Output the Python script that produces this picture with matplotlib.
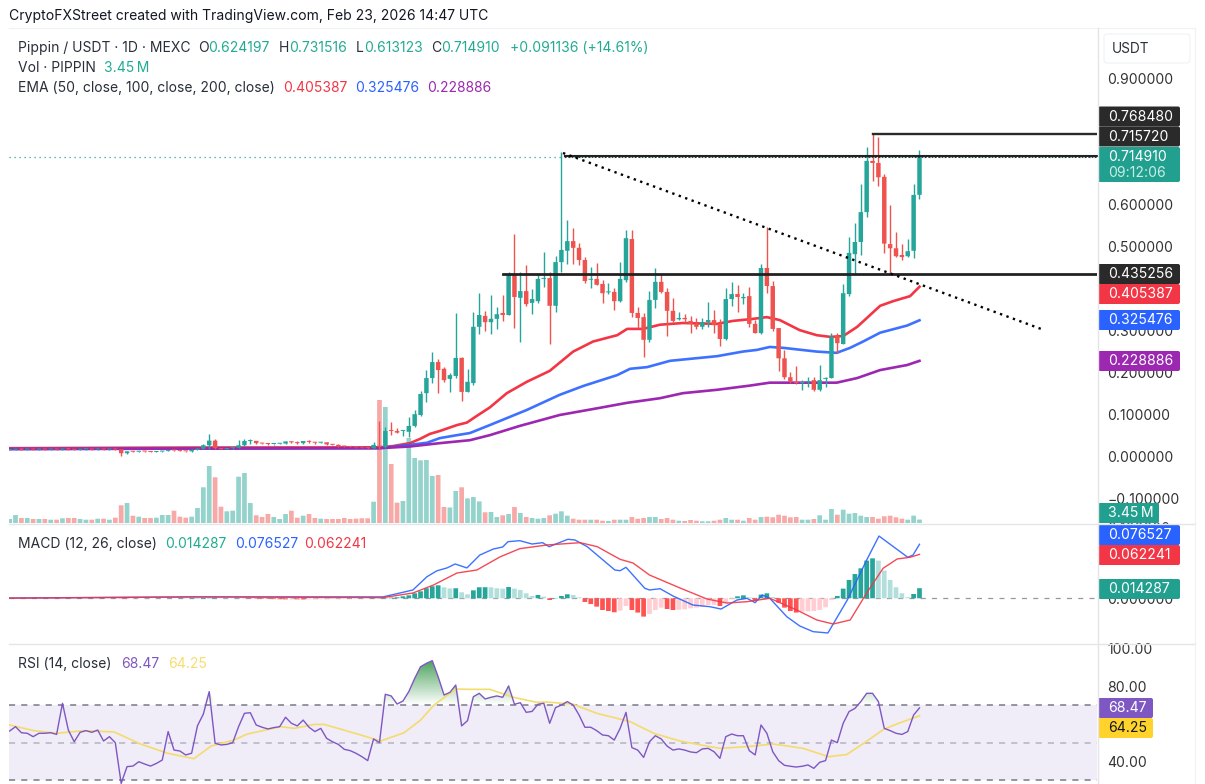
import matplotlib
matplotlib.use("Agg")
import matplotlib.pyplot as plt
from matplotlib.patches import FancyBboxPatch, Polygon
import numpy as np

plt.rcParams['font.family'] = ['Inter', 'DejaVu Sans']

W, H = 1205, 784

# all series below are read newest bar first, reversed further down
opens = [.6242,.491,.478,.481,.497,.507,.667,.70,.705,.583,.512,.483,.388,.269,.288,.188,.186,.16,.183,.178,
         .176,.178,.19,.235,.307,.407,.45,.295,.317,.383,.378,.388,.376,.281,.316,.326,.321,.31,.317,.324,
         .331,.328,.348,.393,.417,.374,.279,.333,.343,.519,.421,.371,.393,.392,.412,.424,.422,.469,.498,.514,
         .491,.464,.36,.426,.424,.371,.367,.395,.379,.436,.338,.343,.329,.321,.336,.31,.176,.155,.236,.193,
         .186,.21,.226,.188,.152,.10,.074,.06,.062,.062,.064,.024,.027,.021,
         .0225,.023,.024,.025,.026,.029,.03,.035,.034,.035,.037,.033,.034,.036,.032,.0315,.031,.032,.033,.0385,
         .038,.028,.022,.021,.019,.021,.039,.028,.02,.017,.0135,.0145,.0155,.0165,.014,.013,.012,.013,.014,.0125,
         .0135,.009,.018,.0185,.018,.019,.018,.019,.0185,.0175,.0185,.0195,.018,.019,.018,.019,.018,.019,.018,.0195,.0175,.0165]
closes = [.7149,.624,.49,.476,.478,.497,.508,.666,.70,.705,.583,.512,.486,.39,.271,.286,.188,.183,.16,.181,
          .178,.176,.179,.19,.235,.305,.407,.45,.295,.317,.381,.381,.388,.376,.281,.314,.326,.321,.31,.317,
          .328,.331,.324,.348,.393,.417,.374,.279,.331,.343,.521,.424,.371,.394,.39,.41,.424,.419,.469,.498,
          .514,.493,.464,.36,.426,.424,.376,.364,.395,.381,.436,.338,.34,.329,.321,.338,.31,.179,.155,.236,
          .195,.183,.207,.226,.188,.15,.102,.074,.063,.058,.062,.062,.024,.029,
          .021,.0225,.023,.024,.025,.026,.029,.03,.035,.034,.036,.038,.033,.035,.037,.032,.0315,.031,.032,.033,
          .0385,.038,.028,.022,.021,.019,.021,.039,.028,.02,.017,.0135,.0145,.0155,.015,.014,.013,.012,.013,.014,
          .0125,.0135,.009,.018,.0185,.018,.019,.018,.019,.0185,.0175,.0185,.0195,.018,.019,.018,.019,.018,.019,.018,.0195,.0175]
highs = [.7315,.65,.519,.507,.536,.60,.674,.762,.7685,.738,.65,.557,.524,.412,.295,.295,.19,.219,.19,.19,
         .183,.217,.203,.255,.307,.419,.548,.46,.326,.405,.39,.41,.417,.402,.329,.35,.369,.33,.33,.335,
         .34,.345,.379,.402,.436,.45,.395,.343,.357,.54,.54,.464,.402,.414,.421,.462,.452,.476,.51,.545,
         .564,.725,.479,.44,.488,.436,.40,.457,.44,.531,.44,.386,.357,.386,.348,.39,.345,.21,.238,.343,
         .20,.214,.233,.25,.207,.157,.112,.095,.065,.07,.083,.071,.086,.035,
         .023,.024,.025,.026,.027,.03,.031,.036,.036,.036,.041,.039,.037,.038,.039,.034,.032,.033,.034,.039,
         .044,.043,.04,.023,.022,.022,.042,.055,.032,.021,.018,.015,.016,.017,.016,.015,.014,.014,.015,.015,
         .014,.015,.0185,.019,.019,.02,.019,.02,.019,.019,.019,.021,.019,.02,.019,.02,.019,.02,.019,.021,.02,.018]
lows = [.6131,.474,.476,.469,.476,.435,.486,.645,.657,.571,.481,.436,.383,.269,.248,.187,.167,.157,.157,.167,
        .16,.175,.176,.186,.204,.30,.39,.293,.295,.31,.365,.345,.36,.279,.264,.295,.31,.305,.305,.295,
        .319,.326,.322,.288,.39,.355,.274,.238,.307,.333,.417,.369,.35,.388,.367,.41,.402,.414,.457,.46,
        .46,.44,.345,.269,.405,.367,.34,.36,.274,.307,.338,.324,.305,.293,.30,.293,.171,.155,.133,.188,
        .155,.179,.152,.176,.131,.098,.071,.048,.05,.056,.052,.021,.02,.02,
        .02,.021,.022,.023,.024,.025,.028,.029,.033,.032,.033,.032,.032,.033,.031,.03,.029,.029,.03,.032,
        .031,.027,.021,.02,.018,.018,.019,.019,.019,.016,.013,.013,.014,.015,.014,.013,.011,.011,.012,.012,
        .012,.008,.003,.017,.017,.017,.017,.017,.017,.017,.017,.017,.017,.017,.017,.017,.017,.017,.017,.017,.017,.016]

# volume in millions
volumes = [3.45,7.3,3.3,4.3,5.7,7.3,6.7,4.3,6,6,7.3,10,9.3,13.3,8.3,14,3.3,7.7,4,3.3,
           3.3,6,5.7,7.3,8.3,5.7,6.3,6,3.3,5,2.3,3.3,3.3,5,3.3,2.3,1.7,1.7,2.3,3,
           2,2.3,3.3,5,4,6,6,5,4.3,6,3.3,3.3,3.3,2,2.3,3.3,3.3,3.3,3.3,4.3,
           7.3,11.7,9.3,7.7,5,4.3,5,6,10,16,9,7.7,6,11,10.7,21.6,26,24.6,35.7,32,
           15.5,16,48,47,63,62.7,65,85,22,20.3,59,116,123,21.3,
           4.7,4.7,4.3,4,5,4,4,4,4.3,5,9,7.3,5.3,12.3,9,4,6,9,6,7.7,
           20,50,46.3,12.3,11.7,16.3,45.7,57,35.7,15,6.3,5.3,6.3,12.3,8,8,5.3,5,5,6.3,
           7.3,20,17.7,5.3,3.3,4.3,4.3,3.3,3.3,4,5,5,4.7,3.3,3.3,4,4,4,5,5,8,4]

# macd histogram in thousandths
macd_hist = [14.3,6.1,1.4,7.1,15.6,25.9,39.2,53.4,56.6,53.4,42.5,34.4,25.9,13.7,3.3,-2.4,-12.7,-16.6,-18,-18.5,
             -18.9,-20.2,-18,-13.2,-6.1,1.8,7.1,5.2,-3.3,1.4,4.2,2.8,-1,-7.1,-10.9,-9.3,-9.5,-11.8,-13.2,-14.2,
             -15.6,-16.3,-16.6,-15.2,-13.2,-16.6,-22.2,-25.9,-20.2,-16.6,-10.9,-17.4,-19.8,-18,-16.6,-11.8,-8.1,-5.2,1.4,4.7,
             5.7,3.3,.4,-2.4,2.4,4.7,3.3,7.1,11.8,13.7,16,13.7,14.2,15.6,15.7,15.6,11.3,5.7,8.5,14.2,
             14,15.6,18.4,17,14.2,9.9,7.1,4.2,2.8,1.4,1,.7,.3,.2,
             -.2,-.3,-.4,-.5,-.6,-.8,-1,-1.2,-1.3,-1.4,-1.5,-1.6,-1.5,-1.4,-1.5,-1.3,-1.1,-.9,-.8,-.6,
             -.5,-.3,.2,.4,.5,.6,.7,.6,.5,.4,.3,.2,.1,.1,-.1,-.2,-.2,-.3,-.3,-.4,
             -.4,-.5,-.4,-.2,-.1,-.1,.1,.1,.1,.1,-.1,-.1,.1,.1,.1,-.1,-.1,.1,.1,.1,.1,.1]

# rsi oldest bar first
rsi = [56.2,58.5,55.3,55,53.2,55,55,55.3,54.4,70.9,56.7,50.5,55.5,56.4,55.5,56.7,50.9,53.2,50,28.4,
       37.3,37.6,39.9,38.7,37.6,39,40.8,55.9,46.1,45.6,43.5,44.4,59,65.2,77.1,49.7,48.8,49.1,50,58.5,
       65.6,65.9,59.4,58.2,57.3,58,58.5,63.5,60.3,58.9,62,58.2,55.9,57.6,52.3,50.5,49.1,46.5,45.8,44.4,
       42.6,40.5,52,50,75.7,74.8,70.5,72.1,77.1,84.1,90.3,92.1,93.5,85,75.3,76.7,80.6,58.9,61.7,74.4,76.2,
       73.2,74.1,74.8,74.1,80.1,70.4,71.2,66.1,66.6,70.4,70.9,60.3,68.6,70,71.8,70,64.7,58.2,58.2,56.4,
       54.1,53.7,51.4,57.6,66.1,47.4,46.1,42.2,50.5,53.7,52,48.2,46.1,46.7,46.1,45.1,44.7,46.7,47,45.2,
       41.7,53.2,54.6,53.7,53.7,45.8,43.5,59.4,55,45.2,40.5,38,37.5,37.1,37.5,38.2,36.4,39.6,40.5,51.4,
       50,60.3,66.5,68.2,71.8,76.2,76.2,71.8,57.6,56.4,55,54.4,55.9,64.7,68.47]
rsi_ma_bar = [0,4.1,8.1,12.7,17.8,22.3,26.9,31.4,34.3,38.2,40.5,46.2,48.5,51.9,53.6,59.8,63.2,67.2,70,72.3,76,78,80.3,
              81.8,85.8,89.8,91.5,96,100,105.7,109.7,114.2,118.8,121,125.6,130.1,135.2,139.5,142.6,145.5,148.9,151.7,155]
rsi_ma = [59.4,56.4,55,56.4,55.7,49.3,44.4,41.5,48.2,51.4,54.6,58.5,57.6,59.7,59.7,54.1,50.9,55.3,62,70,78.5,78.3,78.3,
          78.3,74.1,71.4,71.6,70.4,65.6,61.2,55,50.9,48.2,47,47.9,49.3,47,42.6,43.7,49.7,57.1,60.6,64.25]

# ema lines, read at these bars
ema50_bar = [0,32.4,63,65.3,68.2,69.9,71.6,73.3,76.2,77.9,79.6,81.8,84.7,88.1,92,96,99.4,103.5,105.2,107.9,110.8,114.7,
             120.5,123.2,126.1,129,131.2,134.6,137.5,139.8,142,144.4,148.3,150.5,153.4,155]
ema50 = [.021,.0226,.023,.026,.033,.043,.055,.062,.076,.082,.098,.118,.152,.179,.205,.251,.275,.29,.305,.305,.315,.319,
         .317,.324,.328,.333,.326,.302,.29,.286,.288,.31,.36,.371,.383,.4054]
ema100_bar = [0,63,68.2,71.1,73.3,76.2,78.4,81.8,88.1,93.7,97.7,103.5,105.7,108.6,112.5,120.5,124.9,127.3,129.5,131.7,
              137.5,140.9,143.2,145.4,148.3,152.9,155]
ema100 = [.019,.021,.029,.034,.045,.052,.057,.076,.112,.148,.169,.195,.21,.214,.229,.24,.251,.255,.262,.26,
          .251,.248,.26,.275,.296,.313,.3255]
ema200_bar = [0,63,68.2,73.3,78.4,81.8,86.9,93.7,100.5,105.2,110.8,114.7,120.5,126.1,129.5,134.6,140.9,144.4,148.3,152.9,155]
ema200 = [.019,.021,.025,.033,.04,.052,.074,.10,.117,.129,.14,.152,.16,.17,.177,.177,.177,.188,.207,.219,.2289]

# macd lines
macd_bar = [0,32,63.6,66.5,68.7,71.1,72.8,74.5,75.9,77.9,80.1,82.4,84,84.9,86.9,89,90.8,91.9,95.1,96.3,98.4,103.1,104,105,
            108.2,109,110.8,113,116.4,119.3,121.2,123.9,125.6,127,128.2,129.5,132.4,134.6,136.9,139.4,142.7,146,148.1,153,153.9,155]
macd_line = [.0004,.002,.002,.0075,.0118,.0306,.039,.043,.0486,.043,.0613,.0698,.0727,.0802,.0816,.0769,.0788,.0731,.0836,.0826,.0731,.0401,.0391,.0439,
             .0142,.0118,.0136,.0033,-.0095,-.0119,-.0152,-.0024,0,-.0062,.0047,0,-.0261,-.0392,-.0473,-.0491,-.0024,.0542,.0882,.0581,.0613,.0765]
signal_bar = [0,32,63.6,68.7,72.2,76.2,79.6,83.5,86.9,91.5,97.2,100.1,104,106.2,109,114.2,118.8,122.2,125.6,129.5,134.1,137.5,140.3,143.2,146,148.8,151.2,153.4,155]
signal_line = [.0002,.002,.001,.0075,.0188,.0358,.0401,.0585,.0703,.0755,.0788,.0731,.0552,.05,.033,.0146,-.001,-.0067,-.0048,0,-.0166,-.0307,-.0364,-.0307,.0075,.0425,.0557,.0581,.0622]

price_ticks = [-.1, 0, .1, .2, .3, .4, .5, .6, .7, .8, .9]
macd_ticks = [0, .1]
rsi_ticks = [40, 60, 80, 100]

# reorder to oldest first
o = np.array(opens)[::-1]
c = np.array(closes)[::-1]
hi = np.array(highs)[::-1]
lo = np.array(lows)[::-1]
vol = np.array(volumes)[::-1]
hist = np.array(macd_hist)[::-1] / 1000
x = np.arange(len(o))

GREEN = '#26A69A'
RED = '#EF5350'
GRID = '#E4E5E8'
TEXT = '#2A2E39'


def pane(top, bottom, ylim):
    ax = fig.add_axes([9 / W, 1 - bottom / H, (1097 - 9) / W, (bottom - top) / H])
    ax.set_xlim(-0.11, 185.24)
    ax.set_ylim(*ylim)
    ax.patch.set_alpha(0)
    for s in ax.spines.values():
        s.set_visible(False)
    ax.set_xticks([])
    ax.yaxis.tick_right()
    ax.tick_params(axis='y', length=0, pad=7.5, labelsize=10.1, labelcolor='#333333')
    return ax


fig = plt.figure(figsize=(W / 100, H / 100), dpi=100, facecolor='white')

# main pane, 420 px per 1.0 of price
ax_vol = pane(28, 523, (0, 495))
ax_vol.set_yticks([])
ax = pane(28, 523, ((457 - 523) / 420, (457 - 28) / 420))
ax.set_yticks(price_ticks)
ax.set_yticklabels(['\u2212%.6f' % abs(t) if t < 0 else '%.6f' % t for t in price_ticks])
ax_vol.set_zorder(1)
ax.set_zorder(2)

up = c >= o
ax_vol.bar(x, vol, width=0.8, color=np.where(up, '#94D3CC', '#F7A9A7'), linewidth=0, snap=False)

ax.axhline(.71491, color=GREEN, lw=0.9, ls=(0, (1, 3)), zorder=1)
ax.plot(ema50_bar, ema50, color='#F23645', lw=1.9, zorder=2)
ax.plot(ema100_bar, ema100, color='#2962FF', lw=1.9, zorder=2.1, alpha=0.9)
ax.plot(ema200_bar, ema200, color='#9C27B0', lw=1.9, zorder=2.2)

ax.vlines(x, lo, hi, colors=np.where(up, GREEN, RED), lw=1.0, zorder=3)
body_h = np.maximum(np.abs(c - o), 0.0024)
ax.bar(x, body_h, bottom=np.minimum(o, c), width=0.76, color=np.where(up, GREEN, RED), linewidth=0, zorder=3.1, snap=False)

# drawn levels and the trend line
ax.plot([94.6, 185.24], [.71572, .71572], color='#222222', lw=1.5, zorder=4, clip_on=False)
ax.plot([94.6, 185.24], [.71491, .71491], color='#222222', lw=1.2, ls=(0, (1, 1)), zorder=4)
ax.plot([147.1, 185.24], [.76848, .76848], color='#2A2A2A', lw=1.7, zorder=4)
ax.plot([84.05, 185.24], [.435256, .435256], color='#222222', lw=2.0, zorder=4)
ax.plot([94.27, 176.2], [.7238, .3024], color='black', lw=1.7, ls=(0, (1, 1.9)), zorder=4)

# macd pane, 706 px per 1.0
ax_m = pane(523, 643, (-(643 - 598.3) / 706, (598.3 - 523) / 706))
ax_m.set_yticks(macd_ticks)
ax_m.set_yticklabels(['%.6f' % t for t in macd_ticks])
prev = np.r_[hist[0], hist[:-1]]
hist_colors = np.where(hist >= 0, np.where(hist >= prev, GREEN, '#B2DFDB'), np.where(hist < prev, '#FF5252', '#FFCDD2'))
ax_m.axhline(0, color='#9598A1', lw=0.9, ls=(0, (4, 5)), zorder=1)
ax_m.bar(x, hist, width=0.8, color=hist_colors, linewidth=0, zorder=2, snap=False)
ax_m.plot(macd_bar, macd_line, color='#2962FF', lw=1.0, zorder=3, alpha=0.9)
ax_m.plot(signal_bar, signal_line, color='#F23645', lw=1.0, zorder=3.1, alpha=0.9)

# rsi pane
ax_r = pane(643, 784, (70 - (784 - 705) / 1.885, 70 + (705 - 643) / 1.885))
ax_r.set_yticks(rsi_ticks)
ax_r.set_yticklabels(['%.2f' % t for t in rsi_ticks])
ax_r.axhspan(30, 70, color='#7E57C2', alpha=0.11, linewidth=0, zorder=1)
for level, col in [(70, '#787B86'), (50, '#B2B5BE'), (30, '#787B86')]:
    ax_r.axhline(level, color=col, lw=1.1, ls=(0, (4, 4)), zorder=1.5)

rsi_arr = np.array(rsi)
above = Polygon(np.column_stack([np.r_[x[0], x, x[-1]], np.r_[70, np.maximum(rsi_arr, 70), 70]]),
                closed=True, transform=ax_r.transData, facecolor='none', edgecolor='none')
ax_r.add_patch(above)
grad = np.zeros((64, 2, 4))
grad[..., :3] = matplotlib.colors.to_rgb('#3E9B50')
grad[..., 3] = np.linspace(0.95, 0.0, 64)[:, None]
im = ax_r.imshow(grad, extent=(x[0], x[-1], 70, 94), aspect='auto', zorder=2, interpolation='bilinear')
im.set_clip_path(above)
ax_r.set_xlim(-0.11, 185.24)
ax_r.set_ylim(70 - (784 - 705) / 1.885, 70 + (705 - 643) / 1.885)
ax_r.plot(rsi_ma_bar, rsi_ma, color='#F4DC6C', lw=1.2, zorder=3)
ax_r.plot(x, rsi_arr, color='#7E57C2', lw=1.0, zorder=3.1)

# overlay in pixels for text, tags and pane borders
ov = fig.add_axes([0, 0, 1, 1], zorder=10)
ov.set_xlim(0, W)
ov.set_ylim(H, 0)
ov.axis('off')
ov.patch.set_alpha(0)

ov.plot([9, 1195], [28, 28], color='#F0F1F3', lw=0.8)
ov.plot([9, 1195], [523.5, 523.5], color=GRID, lw=1)
ov.plot([9, 1195], [643.5, 643.5], color=GRID, lw=1)
ov.plot([1097.5, 1097.5], [28, 784], color=GRID, lw=1)
ov.plot([1195, 1195], [28, 784], color='#F0F1F3', lw=0.8)
ov.add_patch(FancyBboxPatch((1104, 34), 86, 29, boxstyle='round,pad=0,rounding_size=3', fc='white', ec='#F0F1F3', lw=0.8))
ov.text(1112, 48.5, 'USDT', fontsize=9.8, color=TEXT, va='center')


def label(px, py, txt, col=TEXT, size=10.0):
    ov.text(px, py + 1.2, txt, fontsize=size, color=col, va='center', ha='left')


def tag(py, txt, col, txtcol='white', w=82, h=20):
    ov.add_patch(FancyBboxPatch((1098, py - h / 2), w, h, boxstyle='round,pad=0,rounding_size=2', fc=col, ec='none'))
    ov.text(1108, py, txt, fontsize=10.1, color=txtcol, va='center', ha='left')


label(9, 15, 'CryptoFXStreet created with TradingView.com, Feb 23, 2026 14:47 UTC', '#131722', 10.05)

TEAL = '#22AB94'
label(18, 47, 'Pippin / USDT \u00b7 1D \u00b7 MEXC')
label(198, 47, 'O')
label(208.5, 47, '0.624197', TEAL)
label(278.5, 47, 'H')
label(289, 47, '0.731516', TEAL)
label(355.5, 47, 'L')
label(364, 47, '0.613123', TEAL)
label(431, 47, 'C')
label(441.5, 47, '0.714910', TEAL)
label(510, 47, '+0.091136 (+14.61%)', TEAL)
label(18, 67, 'Vol \u00b7 PIPPIN')
label(104, 67, '3.45\u2009M', TEAL)
label(18, 87, 'EMA (50, close, 100, close, 200, close)')
label(283, 87, '0.405387', '#F23645')
label(355.5, 87, '0.325476', '#2962FF')
label(427, 87, '0.228886', '#9C27B0')

label(18, 543, 'MACD (12, 26, close)')
label(165, 543, '0.014287', TEAL)
label(235, 543, '0.076527', '#2962FF')
label(304.5, 543, '0.062241', '#F23645')

label(18, 663, 'RSI (14, close)')
label(121, 663, '68.47', '#7E57C2')
label(168, 663, '64.25', '#F7DC6F')

tag(116.5, '0.768480', '#2A2A2A')
tag(136.5, '0.715720', '#2A2A2A')
ov.add_patch(FancyBboxPatch((1098, 147), 82, 35, boxstyle='round,pad=0,rounding_size=2', fc='#22A08F', ec='none'))
ov.text(1108, 156.5, '0.714910', fontsize=10.1, color='white', va='center')
ov.text(1108, 173, '09:12:06', fontsize=10.1, color='#C9ECE7', va='center')
tag(274, '0.435256', '#2A2A2A')
tag(294, '0.405387', '#F23645')
tag(320, '0.325476', '#2962FF')
tag(361, '0.228886', '#9C27B0')
tag(513, '3.45\u2009M', '#22A08F', w=61)
tag(535, '0.076527', '#2962FF')
tag(555, '0.062241', '#F23645')
tag(589, '0.014287', '#22A08F')
tag(708, '68.47', '#7E57C2', w=55)
tag(728, '64.25', '#FFD32B', txtcol='#131722', w=55)

fig.savefig('out.png', dpi=100)
